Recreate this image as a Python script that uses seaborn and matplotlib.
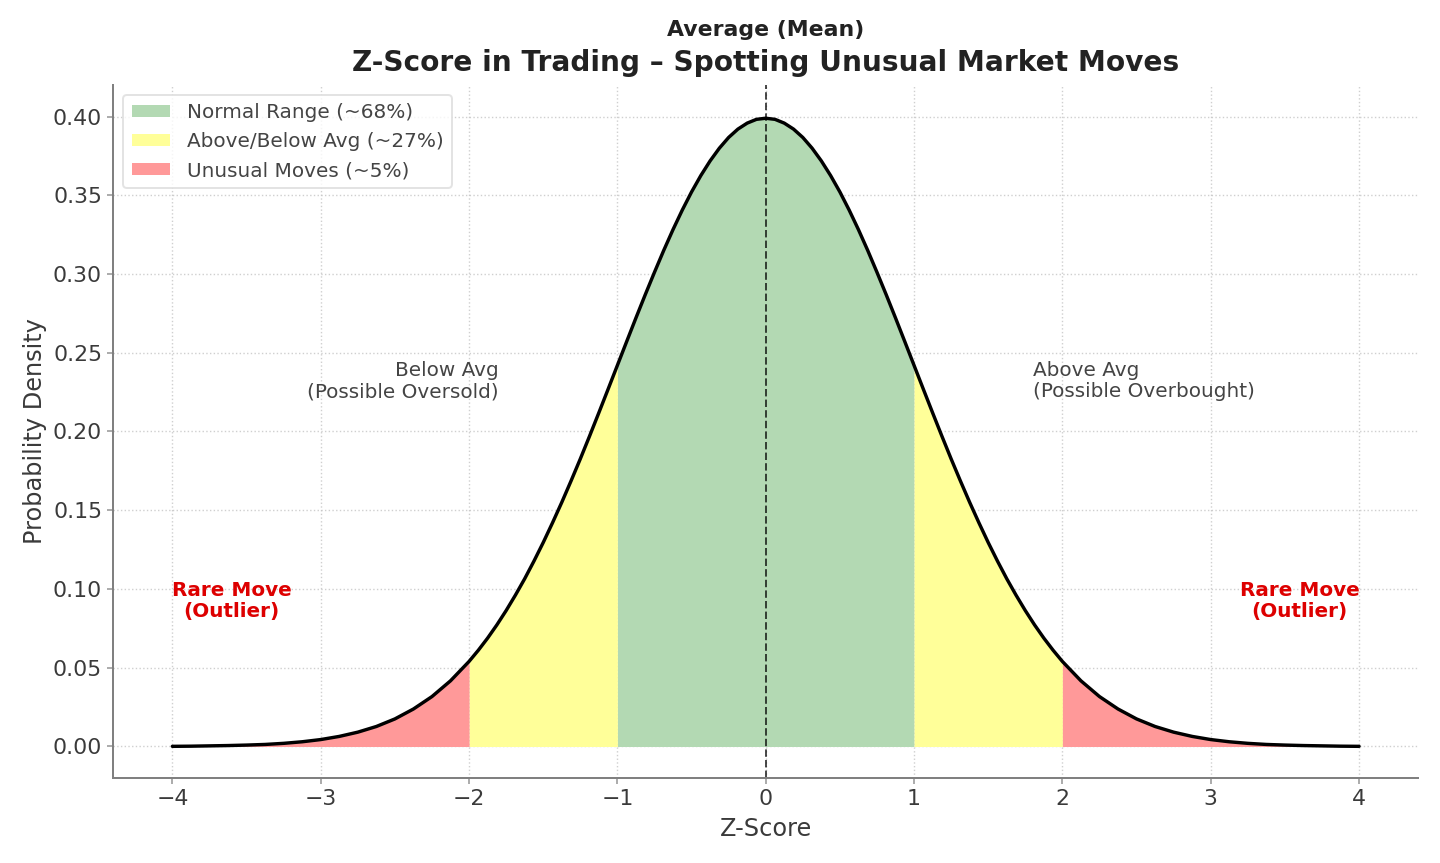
import matplotlib
matplotlib.use("Agg")
import matplotlib.pyplot as plt
import seaborn as sns
import pandas as pd
import numpy as np
from matplotlib.patches import Patch

# ---- data ----
z_scores = [-4.0, -3.875, -3.75, -3.625, -3.5, -3.375, -3.25, -3.125,
            -3.0, -2.875, -2.75, -2.625, -2.5, -2.375, -2.25, -2.125,
            -2.0, -1.9375, -1.875, -1.8125, -1.75, -1.6875, -1.625, -1.5625,
            -1.5, -1.4375, -1.375, -1.3125, -1.25, -1.1875, -1.125, -1.0625,
            -1.0, -0.9375, -0.875, -0.8125, -0.75, -0.6875, -0.625, -0.5625,
            -0.5, -0.4375, -0.375, -0.3125, -0.25, -0.1875, -0.125, -0.0625,
            0.0,
            0.0625, 0.125, 0.1875, 0.25, 0.3125, 0.375, 0.4375, 0.5,
            0.5625, 0.625, 0.6875, 0.75, 0.8125, 0.875, 0.9375, 1.0,
            1.0625, 1.125, 1.1875, 1.25, 1.3125, 1.375, 1.4375, 1.5,
            1.5625, 1.625, 1.6875, 1.75, 1.8125, 1.875, 1.9375, 2.0,
            2.125, 2.25, 2.375, 2.5, 2.625, 2.75, 2.875, 3.0,
            3.125, 3.25, 3.375, 3.5, 3.625, 3.75, 3.875, 4.0]
density = [0.0001, 0.0002, 0.0004, 0.0006, 0.0009, 0.0013, 0.0020, 0.0030,
           0.0044, 0.0064, 0.0091, 0.0127, 0.0175, 0.0238, 0.0317, 0.0417,
           0.0540, 0.0611, 0.0688, 0.0772, 0.0863, 0.0961, 0.1065, 0.1177,
           0.1295, 0.1420, 0.1550, 0.1686, 0.1826, 0.1971, 0.2119, 0.2269,
           0.2420, 0.2571, 0.2721, 0.2868, 0.3011, 0.3150, 0.3282, 0.3406,
           0.3521, 0.3625, 0.3718, 0.3799, 0.3867, 0.3920, 0.3958, 0.3982,
           0.3989,
           0.3982, 0.3958, 0.3920, 0.3867, 0.3799, 0.3718, 0.3625, 0.3521,
           0.3406, 0.3282, 0.3150, 0.3011, 0.2868, 0.2721, 0.2571, 0.2420,
           0.2269, 0.2119, 0.1971, 0.1826, 0.1686, 0.1550, 0.1420, 0.1295,
           0.1177, 0.1065, 0.0961, 0.0863, 0.0772, 0.0688, 0.0611, 0.0540,
           0.0417, 0.0317, 0.0238, 0.0175, 0.0127, 0.0091, 0.0064, 0.0044,
           0.0030, 0.0020, 0.0013, 0.0009, 0.0006, 0.0004, 0.0002, 0.0001]

legend_labels = ["Normal Range (~68%)", "Above/Below Avg (~27%)", "Unusual Moves (~5%)"]
x_ticks = [-4, -3, -2, -1, 0, 1, 2, 3, 4]
y_ticks = [0.00, 0.05, 0.10, 0.15, 0.20, 0.25, 0.30, 0.35, 0.40]

green_c = "#b3d9b3"
yellow_c = "#ffff99"
red_c = "#ff9999"

df = pd.DataFrame({"z": z_scores, "pdf": density})
z = df["z"].to_numpy()
p = df["pdf"].to_numpy()

sns.set_style("white")
plt.rcParams["font.family"] = ["DejaVu Sans"]

fig, ax = plt.subplots(figsize=(10, 863 / 144), dpi=144)
fig.subplots_adjust(left=0.0785, right=0.985, bottom=0.0985, top=0.9015)

# fills
ax.fill_between(z, 0, p, where=(z >= -1) & (z <= 1), color=green_c, linewidth=0)
ax.fill_between(z, 0, p, where=(z >= -2) & (z <= -1), color=yellow_c, linewidth=0)
ax.fill_between(z, 0, p, where=(z >= 1) & (z <= 2), color=yellow_c, linewidth=0)
ax.fill_between(z, 0, p, where=(z <= -2), color=red_c, linewidth=0)
ax.fill_between(z, 0, p, where=(z >= 2), color=red_c, linewidth=0)

sns.lineplot(data=df, x="z", y="pdf", ax=ax, color="black", linewidth=1.7)
ax.lines[-1].set_solid_joinstyle("round")

ax.axvline(0, color="black", linestyle="--", linewidth=1.0, alpha=0.7)

ax.set_xticks(x_ticks)
ax.set_xticklabels([f"{v:d}".replace("-", "\u2212") for v in x_ticks])
ax.set_yticks(y_ticks)
ax.set_yticklabels([f"{v:.2f}" for v in y_ticks])
ax.set_xlim(-4.4, 4.4)
ax.set_ylim(-0.02, 0.42)

ax.grid(True, linestyle=":", color="#c4c4c4", linewidth=0.7, alpha=0.8)
ax.set_axisbelow(True)
sns.despine(ax=ax)
for s in ["left", "bottom"]:
    ax.spines[s].set_color("#808080")
    ax.spines[s].set_linewidth(1.0)
ax.tick_params(axis="both", which="both", length=3, width=0.8, color="#999999",
               labelsize=11, labelcolor="#3a3a3a", left=True, bottom=True, pad=2.5)

ax.set_xlabel("Z-Score", fontsize=12, color="#3a3a3a", labelpad=4)
ax.set_ylabel("Probability Density", fontsize=12, color="#3a3a3a", labelpad=3)
ax.set_title("Z-Score in Trading \u2013 Spotting Unusual Market Moves",
             fontsize=14, fontweight="bold", color="#222222", pad=7)

ax.text(0, 0.455, "Average (Mean)", ha="center", va="center", fontsize=11,
        fontweight="bold", color="#222222", clip_on=False)

ax.text(-1.8, 0.232, "Below Avg\n(Possible Oversold)", ha="right", va="center",
        fontsize=10, color="#444444", linespacing=1.15)
ax.text(1.8, 0.232, "Above Avg\n(Possible Overbought)", ha="left", va="center",
        fontsize=10, color="#444444", linespacing=1.15)

ax.text(-3.6, 0.0925, "Rare Move\n(Outlier)", ha="center", va="center",
        fontsize=10, fontweight="bold", color="#dd0000", linespacing=1.15)
ax.text(3.6, 0.0925, "Rare Move\n(Outlier)", ha="center", va="center",
        fontsize=10, fontweight="bold", color="#dd0000", linespacing=1.15)

handles = [Patch(facecolor=green_c, label=legend_labels[0]),
           Patch(facecolor=yellow_c, label=legend_labels[1]),
           Patch(facecolor=red_c, label=legend_labels[2])]
leg = ax.legend(handles=handles, loc="upper left", fontsize=10, frameon=True,
                labelcolor="#444444")
leg.get_frame().set_edgecolor("#dddddd")

fig.savefig("out.png", dpi=144)
